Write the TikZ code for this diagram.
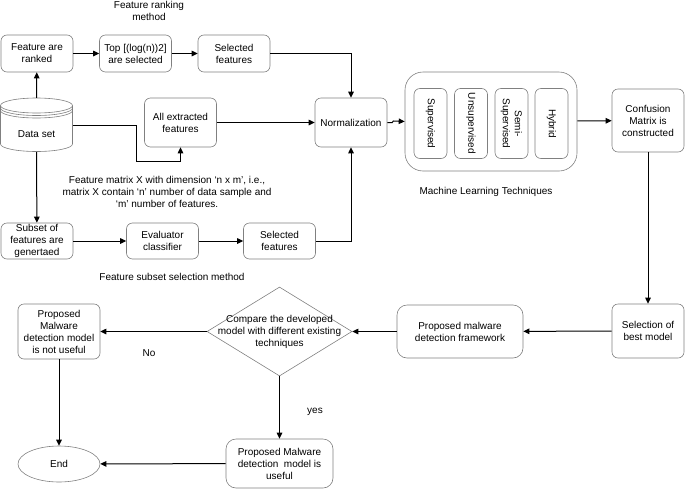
\documentclass[tikz,border=0pt]{standalone}
\usepackage{fontspec}
\setmainfont{Liberation Sans}
\usetikzlibrary{arrows.meta,shapes.geometric}

\tikzset{
  box/.style={draw=black!50, line width=0.6pt, rounded corners=6pt, align=center,
    inner sep=1pt, minimum width=72pt, minimum height=37pt},
  flow/.style={line width=1pt, -{Triangle[length=6pt,width=5.5pt]}},
  dbline/.style={draw=black!50, line width=0.6pt},
  caption/.style={align=center, inner sep=0pt},
}

\begin{document}
\begin{tikzpicture}[x=1pt, y=-1pt, font=\fontsize{10}{12}\selectfont]
  \useasboundingbox (0,0) rectangle (685,490);

  % feature ranking row
  \node[caption] (rankcap) at (149,10.5) {Feature ranking\\method};
  \node[box] (ranked) at (37,53.5) {Feature are\\ranked};
  \node[box] (topsel) at (135.5,53.5) {Top [(log(n))2]\\are selected};
  \node[box] (selA) at (234,53.5) {Selected\\features};

  % data set store
  \node[minimum width=73pt, minimum height=54pt, inner sep=0pt] (dataset) at (36.5,125) {};
  \draw[dbline] (0.5,105.5) -- (0.5,144)
    arc[start angle=180, end angle=360, x radius=36pt, y radius=7.5pt] -- (72.5,105.5);
  \draw[dbline] (36.5,105.5) ellipse[x radius=36pt, y radius=7.5pt];
  \draw[dbline] (0.5,108) arc[start angle=180, end angle=360, x radius=36pt, y radius=7.5pt];
  \draw[dbline] (0.5,110.5) arc[start angle=180, end angle=360, x radius=36pt, y radius=7.5pt];
  \node[caption] (datalbl) at (36.5,134) {Data set};

  \node[box, minimum height=49pt] (allfeat) at (180.5,122.5) {All extracted\\features};
  \node[box, minimum height=49pt] (norm) at (351,122.5) {Normalization};
  \coordinate (turnA) at (136,161);

  \node[caption] (matcap) at (167,192)
    {Feature matrix X with dimension ‘n x m’, i.e.,\\matrix X contain ‘n’ number of data sample and\\‘m’ number of features.};

  % feature subset row
  \node[box, minimum height=36pt] (subset) at (37,241) {Subset of\\features are\\genertaed};
  \node[box, minimum height=36pt] (evalc) at (162.5,241) {Evaluator\\classifier};
  \node[box, minimum height=36pt] (selB) at (279.5,241) {Selected\\features};
  \node[caption] (subcap) at (172,277) {Feature subset selection method};

  % machine learning techniques
  \node[box, rounded corners=18pt, minimum width=172pt, minimum height=99pt] (mlt) at (491,121.5) {};
  \foreach \name/\xpos/\txt in {sup/430.5/Supervised, unsup/471/Unsupervised,
      semi/511.5/Semi-\\Supervised, hyb/551.5/Hybrid}
    \node[box, rotate=-90, minimum width=70pt, minimum height=33pt] (\name) at (\xpos,123.5) {\txt};
  \node[caption] (mlcap) at (486,192) {Machine Learning Techniques};

  \node[box, minimum height=63pt] (confm) at (648,120.5) {Confusion\\Matrix is\\constructed};

  % bottom row
  \node[box, minimum height=54pt] (bestm) at (648,331) {Selection of\\best model};
  \node[box, minimum width=126pt, minimum height=53pt, rounded corners=10pt] (frame) at (460,331.5)
    {Proposed malware\\detection framework};
  \node[diamond, draw=black!50, line width=0.6pt, minimum width=145pt, minimum height=89pt, inner sep=0pt,
    label={[caption]center:Compare the developed\\model with different existing\\techniques}] (cmp) at (279.5,331.5) {};
  \node[box, minimum width=82pt, minimum height=55pt] (notuse) at (59,331.5)
    {Proposed\\Malware\\detection model\\is not useful};
  \node[ellipse, draw=black!50, line width=0.6pt, minimum width=82pt, minimum height=36pt] (endn) at (59,464) {End};
  \node[box, minimum width=107pt, minimum height=49pt, rounded corners=10pt] (useful) at (279.5,463.5)
    {Proposed Malware\\detection\ \ model is\\useful};
  \node[caption] (nolab) at (149,353) {No};
  \node[caption] (yeslab) at (315,412) {yes};

  % connectors
  \draw[flow] (dataset.north) -- (ranked);
  \draw[flow] (ranked) -- (topsel);
  \draw[flow] (topsel) -- (selA);
  \draw[flow] (selA.east) -| (norm.north);
  \draw[flow] (allfeat) -- (norm);
  \draw[flow] (dataset.east) -| (turnA) -| (allfeat.south);
  \draw[flow] (dataset.south) -- (subset);
  \draw[flow] (subset) -- (evalc);
  \draw[flow] (evalc) -- (selB);
  \draw[flow] (selB.east) -| (norm.south);
  \draw[flow] (norm.east) -- ++(5,0) -- ++(1,-1.5) -- (mlt.west);
  \draw[flow] (mlt) -- (confm);
  \draw[flow] (confm) -- (bestm);
  \draw[flow] (bestm) -- (frame);
  \draw[flow] (frame) -- (cmp);
  \draw[flow] (cmp) -- (notuse);
  \draw[flow] (cmp) -- (useful);
  \draw[flow] (notuse) -- (endn);
  \draw[flow] (useful) -- (endn);
\end{tikzpicture}
\end{document}
